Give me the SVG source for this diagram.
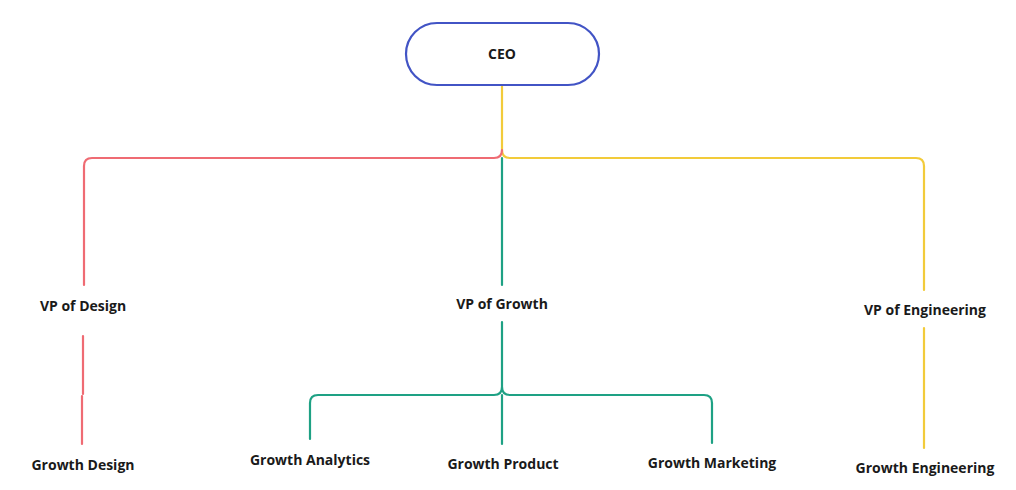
<svg xmlns="http://www.w3.org/2000/svg" width="1016" height="490" viewBox="0 0 1016 490">
<style>
text{font-family:"Open Sans","Liberation Sans",sans-serif;font-weight:bold;font-size:14px;fill:#1a1a1a;text-anchor:middle}
.c{fill:none;stroke-width:2.2;stroke-linecap:round}
.r{stroke:#ef6b73}.g{stroke:#1ea184}.y{stroke:#f2cb3a}
</style>
<rect width="1016" height="490" fill="#fff"/>
<g id="connectors">
<path class="c y" d="M502 86V150Q502 158 510 158H916Q924 158 924 166V290"/>
<path class="c y" d="M924 328V448"/>
<path class="c r" d="M502 150Q502 158 494 158H92Q84 158 84 166V285"/>
<path class="c r" d="M83 336V394M82 396V444"/>
<path class="c g" d="M502 158V285"/>
<path class="c g" d="M502 322V387Q502 395 494 395H318Q310 395 310 403V439"/>
<path class="c g" d="M502 387Q502 395 510 395H704Q712 395 712 403V443"/>
<path class="c g" d="M502 395V444"/>
</g>
<g id="ceo"><rect x="406" y="23" width="193" height="62" rx="31" fill="#fff" stroke="#4254c5" stroke-width="2.2"/><text x="502" y="59">CEO</text></g>
<g id="vp-design"><text x="83" y="311">VP of Design</text></g>
<g id="vp-growth"><text x="502" y="309">VP of Growth</text></g>
<g id="vp-eng"><text x="925" y="315">VP of Engineering</text></g>
<g id="growth-design"><text x="83" y="470">Growth Design</text></g>
<g id="growth-analytics"><text x="310" y="465">Growth Analytics</text></g>
<g id="growth-product"><text x="503" y="469">Growth Product</text></g>
<g id="growth-marketing"><text x="712" y="468">Growth Marketing</text></g>
<g id="growth-eng"><text x="925" y="473">Growth Engineering</text></g>
</svg>
